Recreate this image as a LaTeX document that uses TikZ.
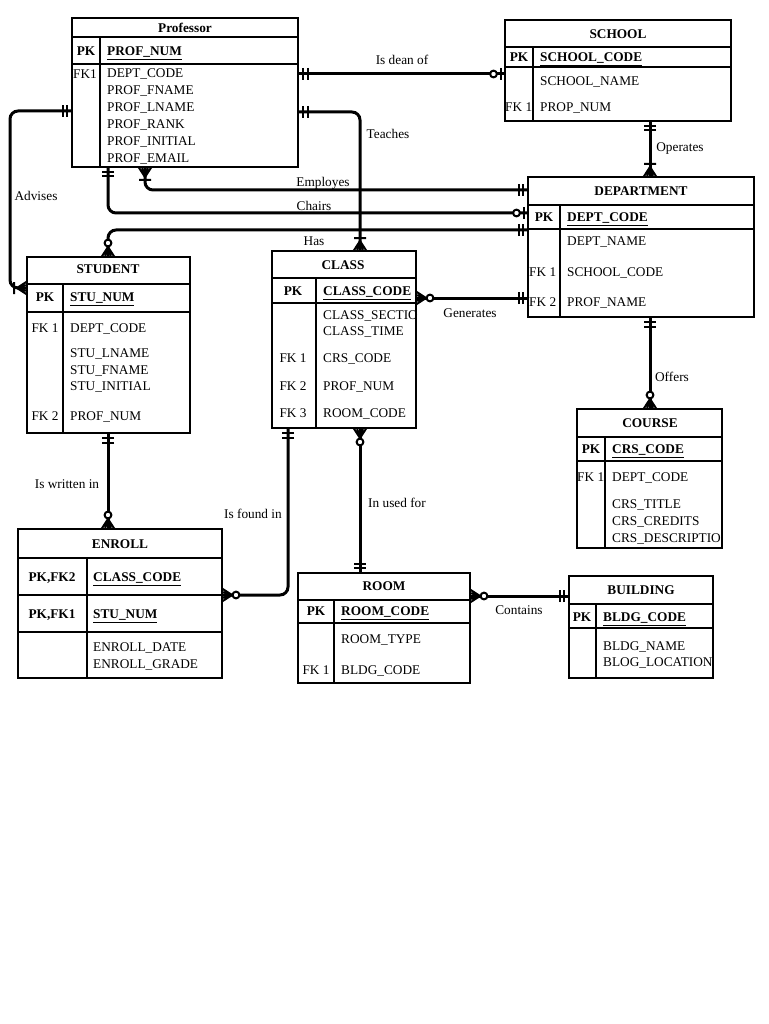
\documentclass[tikz,border=0pt]{standalone}
\usepackage{fontspec}
\setmainfont{Liberation Serif}
\newcommand\efont{\fontsize{13.3}{16}\selectfont}
\newcommand\ehdr[4]{\node[font=\efont\bfseries, inner sep=0pt] (#1) at (#2,#3) {#4};}
\newcommand\eatt[4]{\node[anchor=base west, inner sep=0pt] (#1) at (#2,#3+4.6) {#4};}
\newcommand\ekey[4]{\node[anchor=base, inner sep=0pt] (#1) at (#2,#3+4.6) {#4};}
\newcommand\ekeyb[4]{\node[anchor=base, inner sep=0pt, font=\efont\bfseries] (#1) at (#2,#3+4.6) {#4};}
\newcommand\epk[4]{\node[anchor=base west, inner sep=0pt, font=\efont\bfseries] (#1) at (#2,#3+4.6) {\underline{#4}};}
\newcommand\elab[4]{\node[inner sep=0pt] (#1) at (#2,#3) {#4};}
\newcommand\erbox[8]{%
  \node[draw, boxline, inner sep=0pt, outer sep=0pt, anchor=north west,
        minimum width={(#4-#2)*1pt}, minimum height={(#5-#3)*1pt}] (#1) at (#2,#3) {};
  \draw[boxline] (#2,#6) -- (#4,#6) (#2,#7) -- (#4,#7) (#8,#6) -- (#8,#5);}
\tikzset{
  boxline/.style={line width=1.1pt},
  conn/.style={line width=3pt, rounded corners=8pt},
  ermk/.style={line width=2pt},
  erOne/.pic={\draw[ermk] (5,-6)--(5,6) (9.5,-6)--(9.5,6);},
  erZeroOne/.pic={\draw[ermk] (4,-6)--(4,6); \draw[ermk,fill=white] (11.5,0) circle (3.4);},
  erOneMany/.pic={\draw[ermk] (0,-6.5)--(10,0)--(0,6.5) (0,-3)--(10,0)--(0,3) (13,-6)--(13,6);},
  erZeroMany/.pic={\draw[ermk] (0,-6.5)--(10,0)--(0,6.5) (0,-3)--(10,0)--(0,3); \draw[ermk,fill=white] (14,0) circle (3.4);},
}
\begin{document}
\begin{tikzpicture}[x=1pt, y=-1pt, font=\efont]
\fill[white] (0,0) rectangle (768,1024);
\useasboundingbox (0,0) rectangle (768,1024);

% ---------- entities ----------
\erbox{prof}{72}{18}{298}{167}{37}{64}{100}
\ehdr{profh}{185}{28}{Professor}
\ekeyb{profpk}{86}{51}{PK}
\epk{profk}{107}{51}{PROF\_NUM}
\eatt{proffk}{73}{74}{FK1}
\eatt{profa1}{107}{73}{DEPT\_CODE}
\eatt{profa2}{107}{90}{PROF\_FNAME}
\eatt{profa3}{107}{107}{PROF\_LNAME}
\eatt{profa4}{107}{124}{PROF\_RANK}
\eatt{profa5}{107}{141}{PROF\_INITIAL}
\eatt{profa6}{107}{158}{PROF\_EMAIL}

\erbox{school}{505}{20}{731}{121}{47}{67}{533}
\ehdr{schoolh}{618}{34}{SCHOOL}
\ekeyb{schoolpk}{519}{57}{PK}
\epk{schoolk}{540}{57}{SCHOOL\_CODE}
\eatt{schoola1}{540}{81}{SCHOOL\_NAME}
\eatt{schoolfk}{505}{107}{FK 1}
\eatt{schoola2}{540}{107}{PROP\_NUM}

\erbox{dept}{528}{177}{754}{317}{205}{229}{560}
\ehdr{depth}{641}{191}{DEPARTMENT}
\ekeyb{deptpk}{544}{217}{PK}
\epk{deptk}{567}{217}{DEPT\_CODE}
\eatt{depta1}{567}{241}{DEPT\_NAME}
\eatt{deptfk1}{529}{272}{FK 1}
\eatt{depta2}{567}{272}{SCHOOL\_CODE}
\eatt{deptfk2}{529}{302}{FK 2}
\eatt{depta3}{567}{302}{PROF\_NAME}

\erbox{student}{27}{257}{190}{433}{284}{312}{63}
\ehdr{studenth}{108}{269}{STUDENT}
\ekeyb{studentpk}{45}{297}{PK}
\epk{studentk}{70}{297}{STU\_NUM}
\ekey{studentfk1}{45}{328}{FK 1}
\eatt{studenta1}{70}{328}{DEPT\_CODE}
\eatt{studenta2}{70}{353}{STU\_LNAME}
\eatt{studenta3}{70}{370}{STU\_FNAME}
\eatt{studenta4}{70}{386}{STU\_INITIAL}
\ekey{studentfk2}{45}{416}{FK 2}
\eatt{studenta5}{70}{416}{PROF\_NUM}

\erbox{class}{272}{251}{416}{428}{278}{303}{316}
\ehdr{classh}{343}{265}{CLASS}
\ekeyb{classpk}{293}{291}{PK}
\epk{classk}{323}{291}{CLASS\_CODE}
\eatt{classa1}{323}{315}{CLASS\_SECTIO}
\eatt{classa2}{323}{331}{CLASS\_TIME}
\ekey{classfk1}{293}{358}{FK 1}
\eatt{classa3}{323}{358}{CRS\_CODE}
\ekey{classfk2}{293}{386}{FK 2}
\eatt{classa4}{323}{386}{PROF\_NUM}
\ekey{classfk3}{293}{413}{FK 3}
\eatt{classa5}{323}{413}{ROOM\_CODE}

\erbox{course}{577}{409}{722}{548}{437}{461}{605}
\ehdr{courseh}{650}{423}{COURSE}
\ekeyb{coursepk}{591}{449}{PK}
\epk{coursek}{612}{449}{CRS\_CODE}
\eatt{coursefk}{577}{477}{FK 1}
\eatt{coursea1}{612}{477}{DEPT\_CODE}
\eatt{coursea2}{612}{504}{CRS\_TITLE}
\eatt{coursea3}{612}{521}{CRS\_CREDITS}
\eatt{coursea4}{612}{538}{CRS\_DESCRIPTIO}

\erbox{enroll}{18}{529}{222}{678}{558}{595}{87}
\draw[boxline] (enroll.west |- 0,632) -- (enroll.east |- 0,632);
\ehdr{enrollh}{120}{544}{ENROLL}
\ekeyb{enrollpk1}{52}{577}{PK,FK2}
\epk{enrollk1}{93}{577}{CLASS\_CODE}
\ekeyb{enrollpk2}{52}{614}{PK,FK1}
\epk{enrollk2}{93}{614}{STU\_NUM}
\eatt{enrolla1}{93}{647}{ENROLL\_DATE}
\eatt{enrolla2}{93}{664}{ENROLL\_GRADE}

\erbox{room}{298}{573}{470}{683}{600}{623}{334}
\ehdr{roomh}{384}{586}{ROOM}
\ekeyb{roompk}{316}{611}{PK}
\epk{roomk}{341}{611}{ROOM\_CODE}
\eatt{rooma1}{341}{639}{ROOM\_TYPE}
\ekey{roomfk}{316}{670}{FK 1}
\eatt{rooma2}{341}{670}{BLDG\_CODE}

\erbox{building}{569}{576}{713}{678}{604}{628}{596}
\ehdr{buildingh}{641}{590}{BUILDING}
\ekeyb{buildingpk}{582}{617}{PK}
\epk{buildingk}{603}{617}{BLDG\_CODE}
\eatt{buildinga1}{603}{646}{BLDG\_NAME}
\eatt{buildinga2}{603}{662}{BLOG\_LOCATION}

% ---------- connectors ----------
% Is dean of
\draw[conn] (prof.east |- 0,74) -- (school.west |- 0,74);
\pic at (prof.east |- 0,74) {erOne};
\pic[rotate=180] at (school.west |- 0,74) {erZeroOne};
\elab{ldean}{402}{60}{Is dean of}

% Teaches
\draw[conn] (prof.east |- 0,112) -| (class.north -| 360,0);
\pic at (prof.east |- 0,112) {erOne};
\pic[rotate=90] at (class.north -| 360,0) {erOneMany};
\elab{lteach}{388}{134}{Teaches}

% Advises
\draw[conn] (prof.west |- 0,111) -| (10,288) -- (student.west |- 0,288);
\pic[rotate=180] at (prof.west |- 0,111) {erOne};
\pic[rotate=180] at (student.west |- 0,288) {erOneMany};
\elab{ladv}{36}{196}{Advises}

% Employes
\draw[conn] (prof.south -| 145,0) |- (dept.west |- 0,190);
\pic[rotate=-90] at (prof.south -| 145,0) {erOneMany};
\pic[rotate=180] at (dept.west |- 0,190) {erOne};
\elab{lemp}{323}{183}{Employes}

% Chairs
\draw[conn] (prof.south -| 108,0) |- (dept.west |- 0,213);
\pic[rotate=-90] at (prof.south -| 108,0) {erOne};
\pic[rotate=180] at (dept.west |- 0,213) {erZeroOne};
\elab{lchairs}{314}{206}{Chairs}

% Has
\draw[conn] (dept.west |- 0,230) -| (student.north -| 108,0);
\pic[rotate=180] at (dept.west |- 0,230) {erOne};
\pic[rotate=90] at (student.north -| 108,0) {erZeroMany};
\elab{lhas}{314}{241}{Has}

% Operates
\draw[conn] (school.south -| 650,0) -- (dept.north -| 650,0);
\pic[rotate=-90] at (school.south -| 650,0) {erOne};
\pic[rotate=90] at (dept.north -| 650,0) {erOneMany};
\elab{lop}{680}{149}{Operates}

% Generates
\draw[conn] (class.east |- 0,298) -- (dept.west |- 0,298);
\pic at (class.east |- 0,298) {erZeroMany};
\pic[rotate=180] at (dept.west |- 0,298) {erOne};
\elab{lgen}{470}{313}{Generates}

% Offers
\draw[conn] (dept.south -| 650,0) -- (course.north -| 650,0);
\pic[rotate=-90] at (dept.south -| 650,0) {erOne};
\pic[rotate=90] at (course.north -| 650,0) {erZeroMany};
\elab{loff}{672}{377}{Offers}

% Is written in
\draw[conn] (student.south -| 108,0) -- (enroll.north -| 108,0);
\pic[rotate=-90] at (student.south -| 108,0) {erOne};
\pic[rotate=90] at (enroll.north -| 108,0) {erZeroMany};
\elab{lwrit}{67}{484}{Is written in}

% Is found in
\draw[conn] (class.south -| 288,0) |- (enroll.east |- 0,595);
\pic[rotate=-90] at (class.south -| 288,0) {erOne};
\pic at (enroll.east |- 0,595) {erZeroMany};
\elab{lfound}{253}{514}{Is found in}

% In used for
\draw[conn] (class.south -| 360,0) -- (room.north -| 360,0);
\pic[rotate=-90] at (class.south -| 360,0) {erZeroMany};
\pic[rotate=90] at (room.north -| 360,0) {erOne};
\elab{lused}{397}{503}{In used for}

% Contains
\draw[conn] (room.east |- 0,596) -- (building.west |- 0,596);
\pic at (room.east |- 0,596) {erZeroMany};
\pic[rotate=180] at (building.west |- 0,596) {erOne};
\elab{lcont}{519}{610}{Contains}
\end{tikzpicture}
\end{document}
